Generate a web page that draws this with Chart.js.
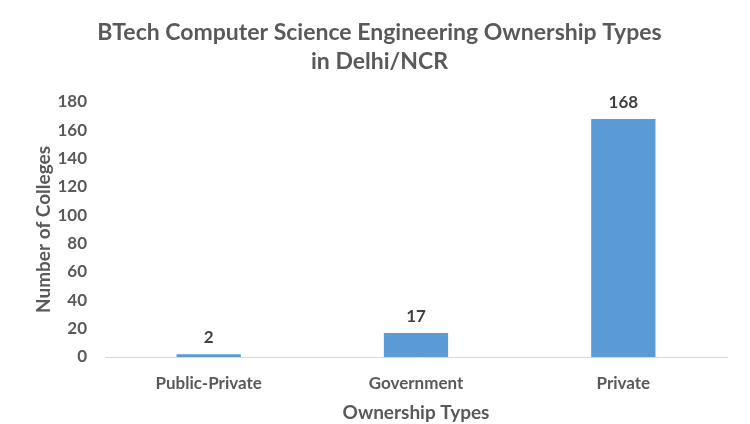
<!DOCTYPE html>
<html>
<head>
<meta charset="utf-8">
<script src="https://cdn.jsdelivr.net/npm/chart.js@4"></script>
<style>
  html, body { margin: 0; padding: 0; background: #fff; }
  #wrap { width: 750px; height: 424px; }
</style>
</head>
<body>
<div id="wrap"><canvas id="chart" width="750" height="424"></canvas></div>
<script>
const categories = ['Public-Private', 'Government', 'Private'];
const colleges = [2, 17, 168];
const yTicks = [0, 20, 40, 60, 80, 100, 120, 140, 160, 180];

const fontFam = "Lato, 'Open Sans', sans-serif";
const grey = '#595959';

// value labels over the bars
const barLabels = {
    id: 'barLabels',
    afterDatasetsDraw(chart) {
        const c = chart.ctx;
        const meta = chart.getDatasetMeta(0);
        c.save();
        c.font = "bold 17px " + fontFam;
        c.fillStyle = '#404040';
        c.textAlign = 'center';
        c.textBaseline = 'bottom';
        meta.data.forEach((bar, i) => {
            c.fillText(colleges[i], bar.x, bar.y - 8);
        });
        c.restore();
    }
};

const ctx = document.querySelector('#chart').getContext('2d');

const chartForOwnership = new Chart(ctx, {
    type: 'bar',
    data: {
        labels: categories,
        datasets: [{
            data: colleges,
            backgroundColor: '#5B9BD5',
            barPercentage: 0.31,
            categoryPercentage: 1
        }]
    },
    options: {
        responsive: false,
        animation: false,
        layout: { padding: { left: 32, right: 23, top: 0, bottom: 0 } },
        plugins: {
            legend: { display: false },
            tooltip: { enabled: false },
            title: {
                display: true,
                text: ['BTech Computer Science Engineering Ownership Types', 'in Delhi/NCR'],
                color: grey,
                font: { family: fontFam, size: 23, weight: 'bold', lineHeight: 1.26 },
                padding: { top: 18, bottom: 26 }
            }
        },
        scales: {
            x: {
                grid: { display: false, drawTicks: false },
                border: { display: true, color: '#d9d9d9', width: 1 },
                ticks: {
                    color: grey,
                    font: { family: fontFam, size: 17, weight: 'bold' },
                    padding: 16
                },
                title: {
                    display: true,
                    text: 'Ownership Types',
                    color: grey,
                    font: { family: fontFam, size: 19, weight: 'bold' },
                    padding: { top: 5, bottom: 0 }
                },
                afterFit(scale) { scale.height = 67; }
            },
            y: {
                min: 0,
                max: 180,
                afterBuildTicks(scale) { scale.ticks = yTicks.map(v => ({ value: v })); },
                grid: { display: false, drawTicks: false },
                border: { display: false },
                ticks: {
                    color: grey,
                    font: { family: fontFam, size: 17, weight: 'bold' },
                    padding: 18
                },
                title: {
                    display: true,
                    text: 'Number of Colleges',
                    color: grey,
                    font: { family: fontFam, size: 19, weight: 'bold' },
                    padding: { top: 0, bottom: 2 }
                },
                afterFit(scale) { scale.width = 73; }
            }
        }
    },
    plugins: [barLabels]
});
</script>
</body>
</html>
